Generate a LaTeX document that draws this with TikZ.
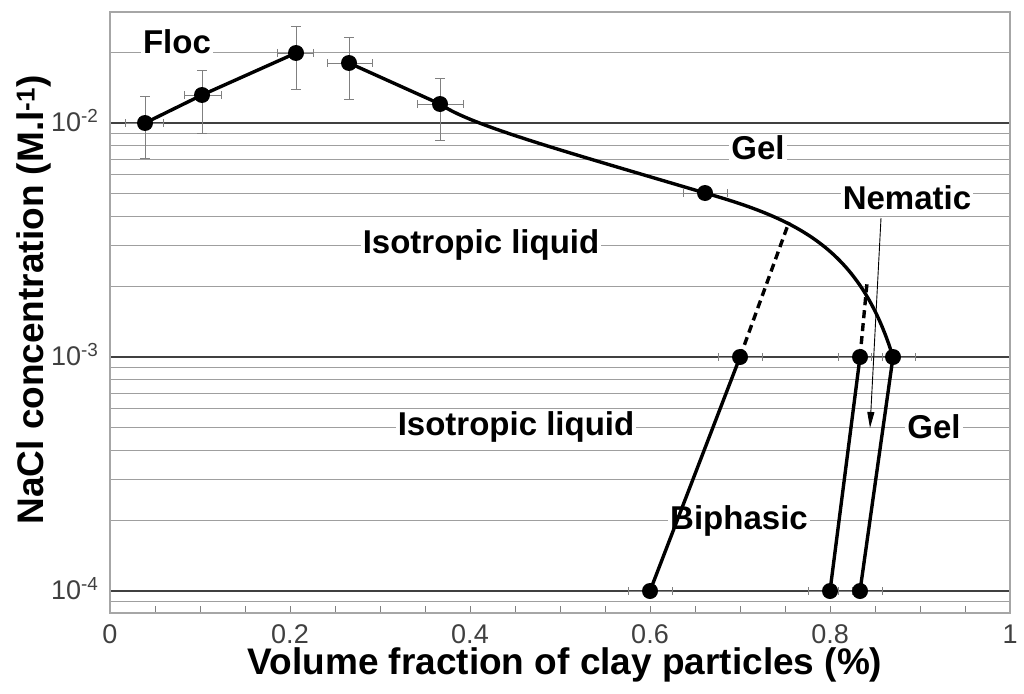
\documentclass[tikz,border=0pt]{standalone}
\usepackage{fontspec}
\setmainfont{Liberation Sans}
\usetikzlibrary{arrows.meta}
\begin{document}
\begin{tikzpicture}[x=1pt,y=-1pt,
  grid/.style={gray!75,line width=1.1pt},
  dec/.style={black!75,line width=1.3pt},
  curve/.style={line width=3.4pt,line join=round},
  dashcurve/.style={line width=3.4pt,dash pattern=on 8pt off 5pt},
  eb/.style={gray,line width=0.9pt},
  pt/.style={circle,fill=black,inner sep=0pt,minimum size=16pt},
  lab/.style={font=\fontsize{33}{36}\selectfont\bfseries,fill=white,inner sep=2pt},
  tick/.style={font=\fontsize{27}{30}\selectfont,text=black!75}]
\useasboundingbox (0,0) rectangle (1024,693);
% grid
\foreach \n/\base in {-2/123,-3/357,-4/591}{
  \foreach \k in {2,...,9}{
    \pgfmathsetmacro\yy{\base-234*log10(\k)}
    \pgfmathparse{\yy>12 && \yy<613 ? 1 : 0}
    \ifnum\pgfmathresult=1 \draw[grid] (110,\yy) -- (1010,\yy);\fi
  }
}
\pgfmathsetmacro\yy{591+234*(1-log10(9))}
\draw[grid] (110,\yy) -- (1010,\yy);
\foreach \y in {123,357,591}{\draw[dec] (110,\y) -- (1010,\y);}
% x minor ticks
\foreach \i in {1,...,19}{\draw[gray,line width=0.9pt] ({110+45*\i},613) -- ({110+45*\i},606);}
% frame
\draw[gray!70,line width=1.3pt] (110,12) rectangle (1010,613);
% labels with white background
\node[lab] (floc) at (177,42) {Floc};
\node[lab] (gel1) at (758,148) {Gel};
\node[lab] (nem) at (907,198) {Nematic};
\node[lab] (iso1) at (481,245) {Isotropic liquid};
\node[lab] (iso2) at (516,427) {Isotropic liquid};
\node[lab] (gel2) at (934,427) {Gel};
\node[lab] (bip) at (739,521) {Biphasic};
% error bars
\foreach \x/\y/\a/\b/\c/\d in {145/123/96/158/125/163, 202/95/70/133/184/221, 296/53/26/89/277/313, 349/63/37/99/327/372, 440/104/78/140/417/463}{
  \draw[eb] (\x,\a) -- (\x,\b); \draw[eb] (\x-5,\a) -- (\x+5,\a); \draw[eb] (\x-5,\b) -- (\x+5,\b);
  \draw[eb] (\c,\y) -- (\d,\y); \draw[eb] (\c,\y-4) -- (\c,\y+4); \draw[eb] (\d,\y-4) -- (\d,\y+4);
}
\foreach \x/\y in {705/193,740/357,860/357,893/357,650/591,830/591,860/591}{
  \draw[eb] (\x-22,\y) -- (\x+22,\y); \draw[eb] (\x-22,\y-4) -- (\x-22,\y+4); \draw[eb] (\x+22,\y-4) -- (\x+22,\y+4);
}
% points
\node[pt] (p1) at (145,123) {};
\node[pt] (p2) at (202,95) {};
\node[pt] (p3) at (296,53) {};
\node[pt] (p4) at (349,63) {};
\node[pt] (p5) at (440,104) {};
\node[pt] (p6) at (705,193) {};
\node[pt] (a1) at (740,357) {};
\node[pt] (b1) at (860,357) {};
\node[pt] (c1) at (893,357) {};
\node[pt] (a2) at (650,591) {};
\node[pt] (b2) at (830,591) {};
\node[pt] (c2) at (860,591) {};
\coordinate (d1) at (789,222);
\coordinate (d2) at (867,283);
% curves
\draw[curve] (p1.center) -- (p2.center) -- (p3.center);
\draw[curve] (p4.center) -- (p5.center);
\draw[curve] (p5.center) .. controls (470,125) and (560,150) .. (p6.center)
  .. controls (800,220) and (860,250) .. (c1.center);
\draw[dashcurve] (a1.center) -- (d1);
\draw[dashcurve] (b1.center) -- (d2);
\draw[curve] (a1.center) -- (a2.center);
\draw[curve] (b1.center) -- (b2.center);
\draw[curve] (c1.center) -- (c2.center);
\coordinate (arrs) at (881,218);
\coordinate (arr) at (870,428);
\draw[line width=0.9pt,-{Triangle[length=16pt,width=7pt]}] (arrs) -- (arr);
% axes text
\foreach \v/\t in {0/0,0.2/0.2,0.4/0.4,0.6/0.6,0.8/0.8,1/1}{\node[tick] (x\t) at ({110+900*\v},634) {\t};}
\node[tick,anchor=east] (y2) at (102,121) {10\textsuperscript{-2}};
\node[tick,anchor=east] (y3) at (102,355) {10\textsuperscript{-3}};
\node[tick,anchor=east] (y4) at (102,589) {10\textsuperscript{-4}};
\node[font=\fontsize{37}{40}\selectfont\bfseries] (xl) at (565,665) {Volume fraction of clay particles (\%)};
\node[font=\fontsize{37}{40}\selectfont\bfseries,rotate=90] (yl) at (34,300) {NaCl concentration (M.l\textsuperscript{-1})};
\end{tikzpicture}
\end{document}
